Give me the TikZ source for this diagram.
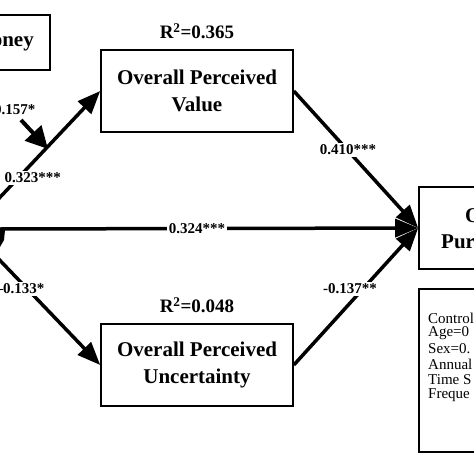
\documentclass[tikz,border=0pt]{standalone}
\usepackage{fontspec}
\setmainfont{Liberation Serif}
\usetikzlibrary{arrows.meta}
\tikzset{
  box/.style={draw, line width=1.6pt, minimum width=192pt, minimum height=82pt, inner sep=0pt, align=center,
    font=\bfseries\fontsize{21}{27}\selectfont},
  path/.style={line width=3.5pt, -{Triangle[length=23pt,width=18pt]}},
  coef/.style={font=\bfseries\fontsize{15}{15}\selectfont, inner sep=1.5pt},
  coefw/.style={coef, fill=white},
  rsq/.style={font=\bfseries\fontsize{19}{19}\selectfont, inner sep=0pt},
  ctrl/.style={font=\fontsize{15}{15}\selectfont, anchor=west, inner sep=0pt}
}
\begin{document}
\begin{tikzpicture}[x=1pt,y=-1pt]
\useasboundingbox (0,0) rectangle (474,474);
\fill[white] (0,0) rectangle (474,474);
\clip (0,0) rectangle (474,474);

% boxes
\node[box, minimum height=55pt] (money) at (-46,42.5) {};
\node[font=\bfseries\fontsize{21}{27}\selectfont, anchor=east, inner sep=0pt] (moneytxt) at (34,42) {Money};

\node[box] (value) at (197,91) {Overall Perceived\\Value};
\node[box] (unc) at (197,365) {Overall Perceived\\Uncertainty};
\node[box] (pur) at (515,228) {};
\node[font=\bfseries\fontsize{21}{27}\selectfont, anchor=west, inner sep=0pt] (purA) at (465,215) {Overall};
\node[font=\bfseries\fontsize{21}{27}\selectfont, anchor=west, inner sep=0pt] (purB) at (441,241) {Purchase};

\node[box, minimum height=163pt] (ctrlbox) at (515,370.5) {};
\node[ctrl] (c1) at (428,318) {Control};
\node[ctrl] (c2) at (428,333.5) {Age=0};
\node[ctrl] (c3) at (428,349) {Sex=0.};
\node[ctrl] (c4) at (428,364.5) {Annual};
\node[ctrl] (c5) at (428,380) {Time S};
\node[ctrl] (c6) at (428,395.5) {Freque};

% R squared
\node[rsq] (r1) at (197,31) {R\textsuperscript{2}=0.365};
\node[rsq] (r2) at (197,305) {R\textsuperscript{2}=0.048};

% source ends
\coordinate (srcA) at (-12,210);
\coordinate (srcB) at (0,229);
\coordinate (srcC) at (-10,250);
\fill (0,227.5) -- (5,230) -- (4,240) -- (0,247) -- cycle;

% main paths
\draw[path] (srcA) -- (value.west);
\draw[path] (srcB) -- (pur.west);
\draw[path] (srcC) -- (unc.west);
\draw[path] (value.east) -- (pur.west);
\draw[path] (unc.east) -- (pur.west);

% moderation
\coordinate (modS) at (21,120);
\coordinate (modE) at (48,149);
\draw[line width=4pt, -{Triangle[length=22pt,width=22pt]}] (modS) -- (modE);

% coefficients
\node[coef, anchor=east] (k157) at (37,110) {0.157*};
\node[coefw, anchor=west] (k323) at (3,178) {0.323***};
\node[coefw] (k324) at (197,229) {0.324***};
\node[coefw] (k410) at (348,150) {0.410***};
\node[coefw] (k137) at (350,289) {-0.137**};
\node[coefw, anchor=east] (k133) at (46,289) {\textendash0.133*};
\end{tikzpicture}
\end{document}
